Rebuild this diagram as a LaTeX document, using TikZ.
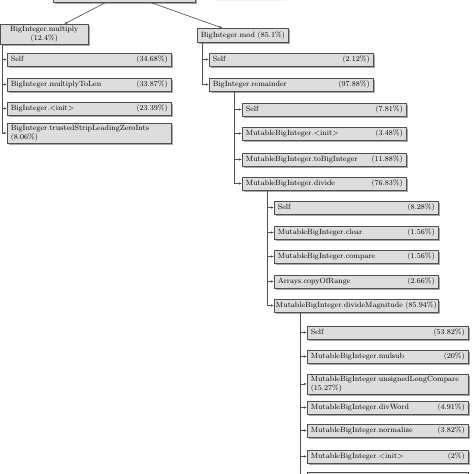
\documentclass[tikz,border=0pt]{standalone}
\usetikzlibrary{positioning, arrows.meta, shadows, calc}
\definecolor{callfill}{HTML}{DDDDDD}
\definecolor{callline}{HTML}{505050}
\newcommand{\callpct}[2]{\makebox[\hsize]{#1\hfill\ #2}}

\tikzset{
  call/.style={draw=callline, fill=callfill, line width=0.6bp,
               drop shadow={shadow xshift=1.6bp, shadow yshift=-1.6bp, fill=black!45, opacity=0.75},
               inner xsep=3.5bp, inner ysep=2bp, minimum height=13bp, anchor=west,
               font=\fontsize{7.6}{9}\selectfont},
  row/.style={call, text width=#1, align=left},
  row/.default=157bp,
  link/.style={-{Latex[length=3bp,width=2.4bp]}, callline, line width=0.65bp},
}

\begin{document}
\begin{tikzpicture}[x=1bp, y=-1bp]
  \useasboundingbox (0,0) rectangle (474,474);

  % cropped top level
  \node[call, minimum width=142bp, minimum height=18bp, anchor=center] (root) at (124,-7) {};
  \node[fill=black!5, minimum width=71bp, minimum height=18bp] (peer) at (251.5,-8) {};

  % left branch
  \node[call, text width=81bp, align=center, anchor=north west] (multiply) at (0,24) {BigInteger.multiply\\(12.4\%)};
  \node[row] (mulself)  at (7,59.5)  {\callpct{Self}{(34.68\%)}};
  \node[row] (multolen) at (7,84.5)  {\callpct{BigInteger.multiplyToLen}{(33.87\%)}};
  \node[row] (mulinit)  at (7,108.5) {\callpct{BigInteger.\textless init\textgreater}{(23.39\%)}};
  \node[row] (mulstrip) at (7,133)   {BigInteger.trustedStripLeadingZeroInts\\(8.06\%)};

  % right branch
  \node[call, minimum height=14bp, minimum width=89bp, anchor=north west] (mod) at (197,28) {BigInteger.mod (85.1\%)};
  \node[row] (modself) at (209,59.5) {\callpct{Self}{(2.12\%)}};
  \node[row] (rem)     at (209,84.5) {\callpct{BigInteger.remainder}{(97.88\%)}};

  \node[row] (remself) at (242,109.5) {\callpct{Self}{(7.81\%)}};
  \node[row] (reminit) at (242,133.5) {\callpct{MutableBigInteger.\textless init\textgreater}{(3.48\%)}};
  \node[row] (tobig)   at (242,159.5) {\callpct{MutableBigInteger.toBigInteger}{(11.88\%)}};
  \node[row] (divide)  at (242,183.5) {\callpct{MutableBigInteger.divide}{(76.83\%)}};

  \node[row] (divself) at (274,207.5) {\callpct{Self}{(8.28\%)}};
  \node[row] (clear)   at (274,232.5) {\callpct{MutableBigInteger.clear}{(1.56\%)}};
  \node[row] (compare) at (274,256.5) {\callpct{MutableBigInteger.compare}{(1.56\%)}};
  \node[row] (copyof)  at (274,281.5) {\callpct{Arrays.copyOfRange}{(2.66\%)}};
  \node[row] (divmag)  at (274,305.5) {\callpct{MutableBigInteger.divideMagnitude}{(85.94\%)}};

  \node[row=154bp] (dmself)    at (307,332.5) {\callpct{Self}{(53.82\%)}};
  \node[row=154bp] (mulsub)    at (307,356.5) {\callpct{MutableBigInteger.mulsub}{(20\%)}};
  \node[row=154bp] (ulcompare) at (307,384)   {MutableBigInteger.unsignedLongCompare\\(15.27\%)};
  \node[row=154bp] (divword)   at (307,407.5) {\callpct{MutableBigInteger.divWord}{(4.91\%)}};
  \node[row=154bp] (normalize) at (307,430.5) {\callpct{MutableBigInteger.normalize}{(3.82\%)}};
  \node[row=154bp] (dminit)    at (307,456.5) {\callpct{MutableBigInteger.\textless init\textgreater}{(2\%)}};
  \node[row=154bp] (dmnext)    at (307,478.5) {};

  % edges
  \draw[link] (root) -- (multiply);
  \draw[link] (root) -- (mod);

  \coordinate (multrunk) at ($(multiply.south west)+(2,0)$);
  \foreach \c in {mulself, multolen, mulinit, mulstrip}
    \draw[link] (multrunk) |- (\c.west);

  \coordinate (modtrunk) at ($(mod.south west)+(5,0)$);
  \foreach \c in {modself, rem}
    \draw[link] (modtrunk) |- (\c.west);

  \coordinate (remtrunk) at ($(rem.south west)+(25,0)$);
  \foreach \c in {remself, reminit, tobig, divide}
    \draw[link] (remtrunk) |- (\c.west);

  \coordinate (divtrunk) at ($(divide.south west)+(25,0)$);
  \foreach \c in {divself, clear, compare, copyof, divmag}
    \draw[link] (divtrunk) |- (\c.west);

  \coordinate (dmtrunk) at ($(divmag.south west)+(26,0)$);
  \foreach \c in {dmself, mulsub, ulcompare, divword, normalize, dminit, dmnext}
    \draw[link] (dmtrunk) |- (\c.west);
\end{tikzpicture}
\end{document}
